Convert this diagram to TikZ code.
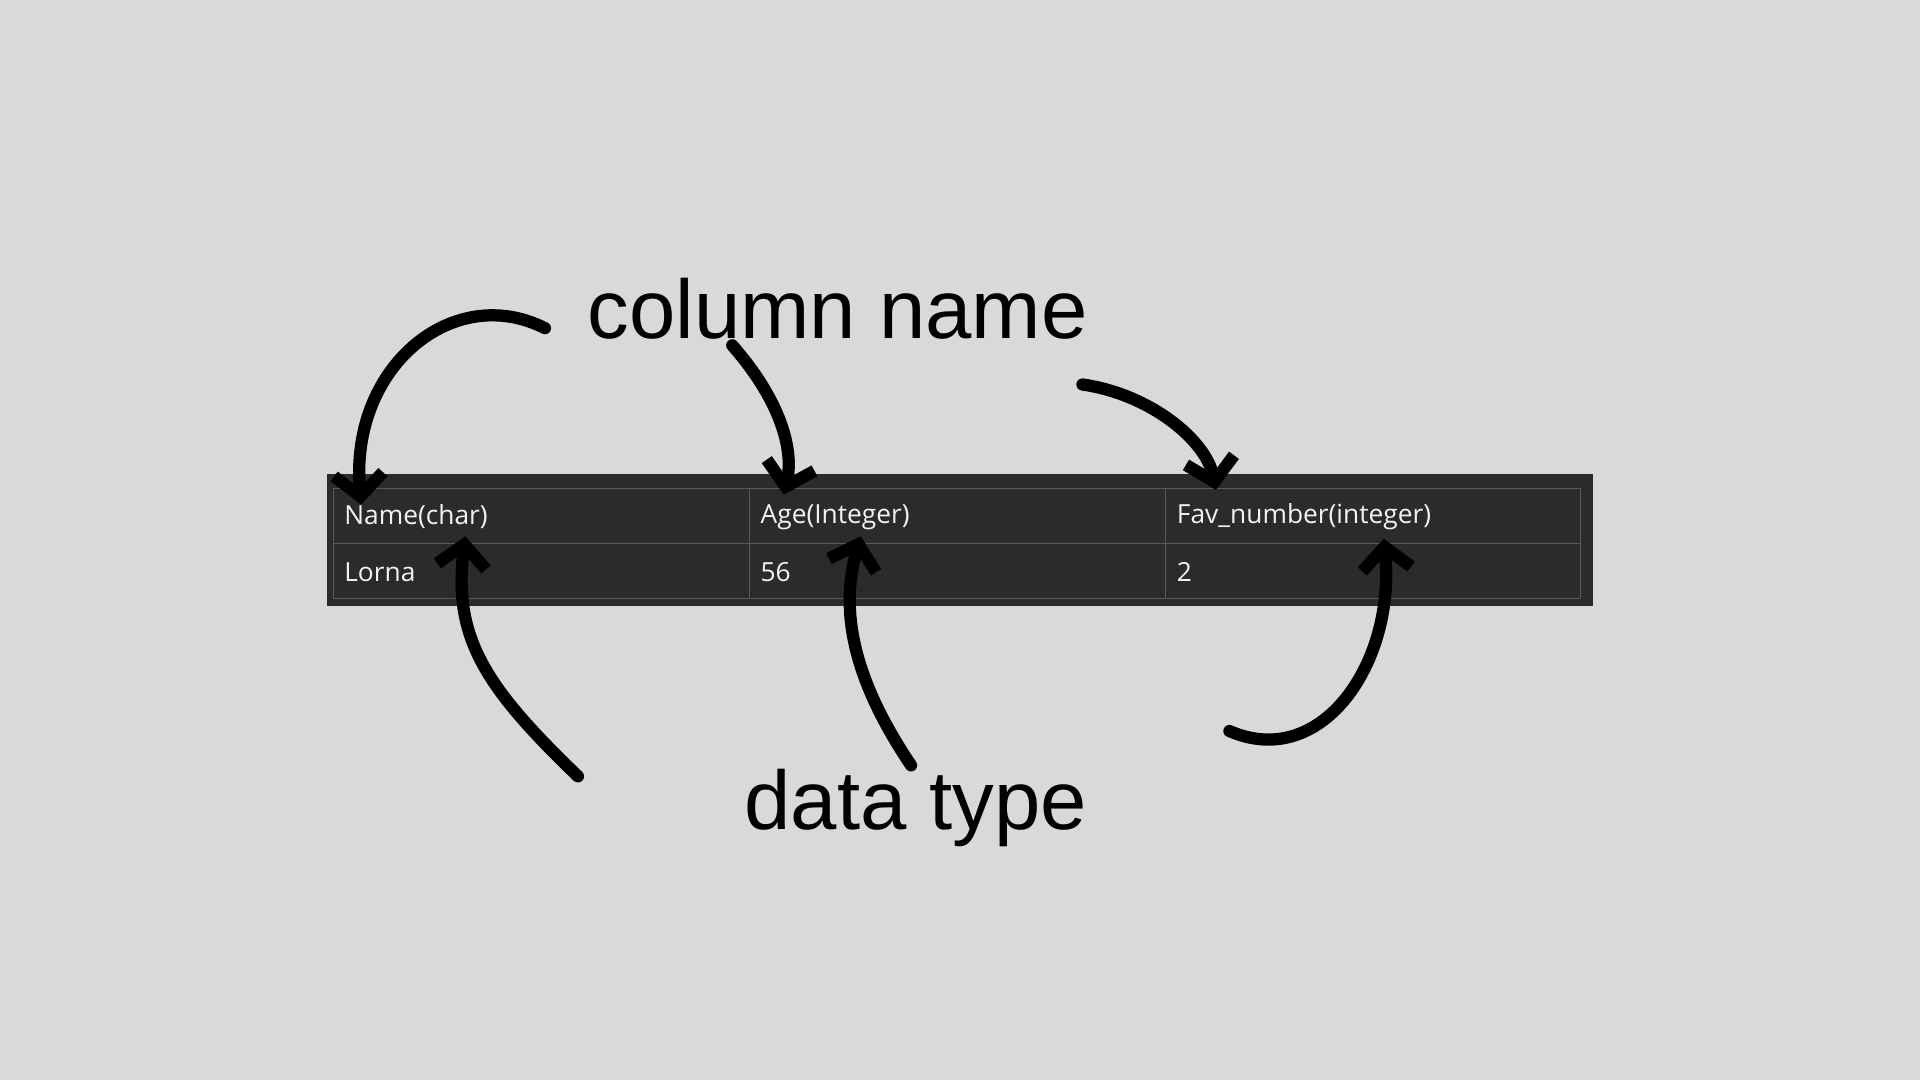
\documentclass[tikz,border=0pt]{standalone}
\usepackage{fontspec}
\setmainfont{Liberation Sans}
\newfontfamily\cellfont{Open Sans}
\usetikzlibrary{arrows.meta}
\definecolor{bg}{HTML}{D9D9D9}
\definecolor{tab}{HTML}{2B2B2B}
\definecolor{grid}{HTML}{5A5A5A}
\begin{document}
\begin{tikzpicture}[x=1pt,y=-1pt,
  hand/.style={line width=10pt,line cap=round,-{Straight Barb[length=18pt,width=40pt,line width=10pt]}},
  cell/.style={anchor=west,inner sep=0pt,text=white!90!gray,font=\cellfont\fontsize{21.5}{24}\selectfont},
  big/.style={font=\fontsize{68}{80}\selectfont}]
\fill[bg] (0,0) rectangle (1568,882);
\useasboundingbox (0,0) rectangle (1568,882);
\fill[tab] (267,387) rectangle (1301,495);
\draw[grid,line width=0.8pt] (272,399) rectangle (1291,489) (272,444) -- (1291,444) (612,399) -- (612,489) (952,399) -- (952,489);
\node[cell] (c1) at (281,422) {Name(char)};
\node[cell] (c2) at (621,422) {Age(Integer)};
\node[cell] (c3) at (961,422) {Fav\_number(integer)};
\node[cell] (d1) at (281,467) {Lorna};
\node[cell] (d2) at (621,467) {56};
\node[cell] (d3) at (961,467) {2};
\node[big] (cn) at (684,252) {column name};
\node[big] (dt) at (748,660) {data type};
\coordinate (a1s) at (445,268); \coordinate (a1e) at (295,412);
\coordinate (a2s) at (598,282); \coordinate (a2e) at (640,404);
\coordinate (a3s) at (884,314); \coordinate (a3e) at (993,400);
\coordinate (b1s) at (472,634); \coordinate (b1e) at (380,438);
\coordinate (b2s) at (744,625); \coordinate (b2e) at (703,438);
\coordinate (b3s) at (1004,597); \coordinate (b3e) at (1130,440);
\draw[hand] (a1s) .. controls (370,230) and (285,300) .. (a1e);
\draw[hand] (a2s) .. controls (640,330) and (648,370) .. (a2e);
\draw[hand] (a3s) .. controls (940,322) and (985,360) .. (a3e);
\draw[hand] (b1s) .. controls (395,560) and (370,520) .. (b1e);
\draw[hand] (b2s) .. controls (690,545) and (688,490) .. (b2e);
\draw[hand] (b3s) .. controls (1080,630) and (1140,540) .. (b3e);
\end{tikzpicture}
\end{document}
